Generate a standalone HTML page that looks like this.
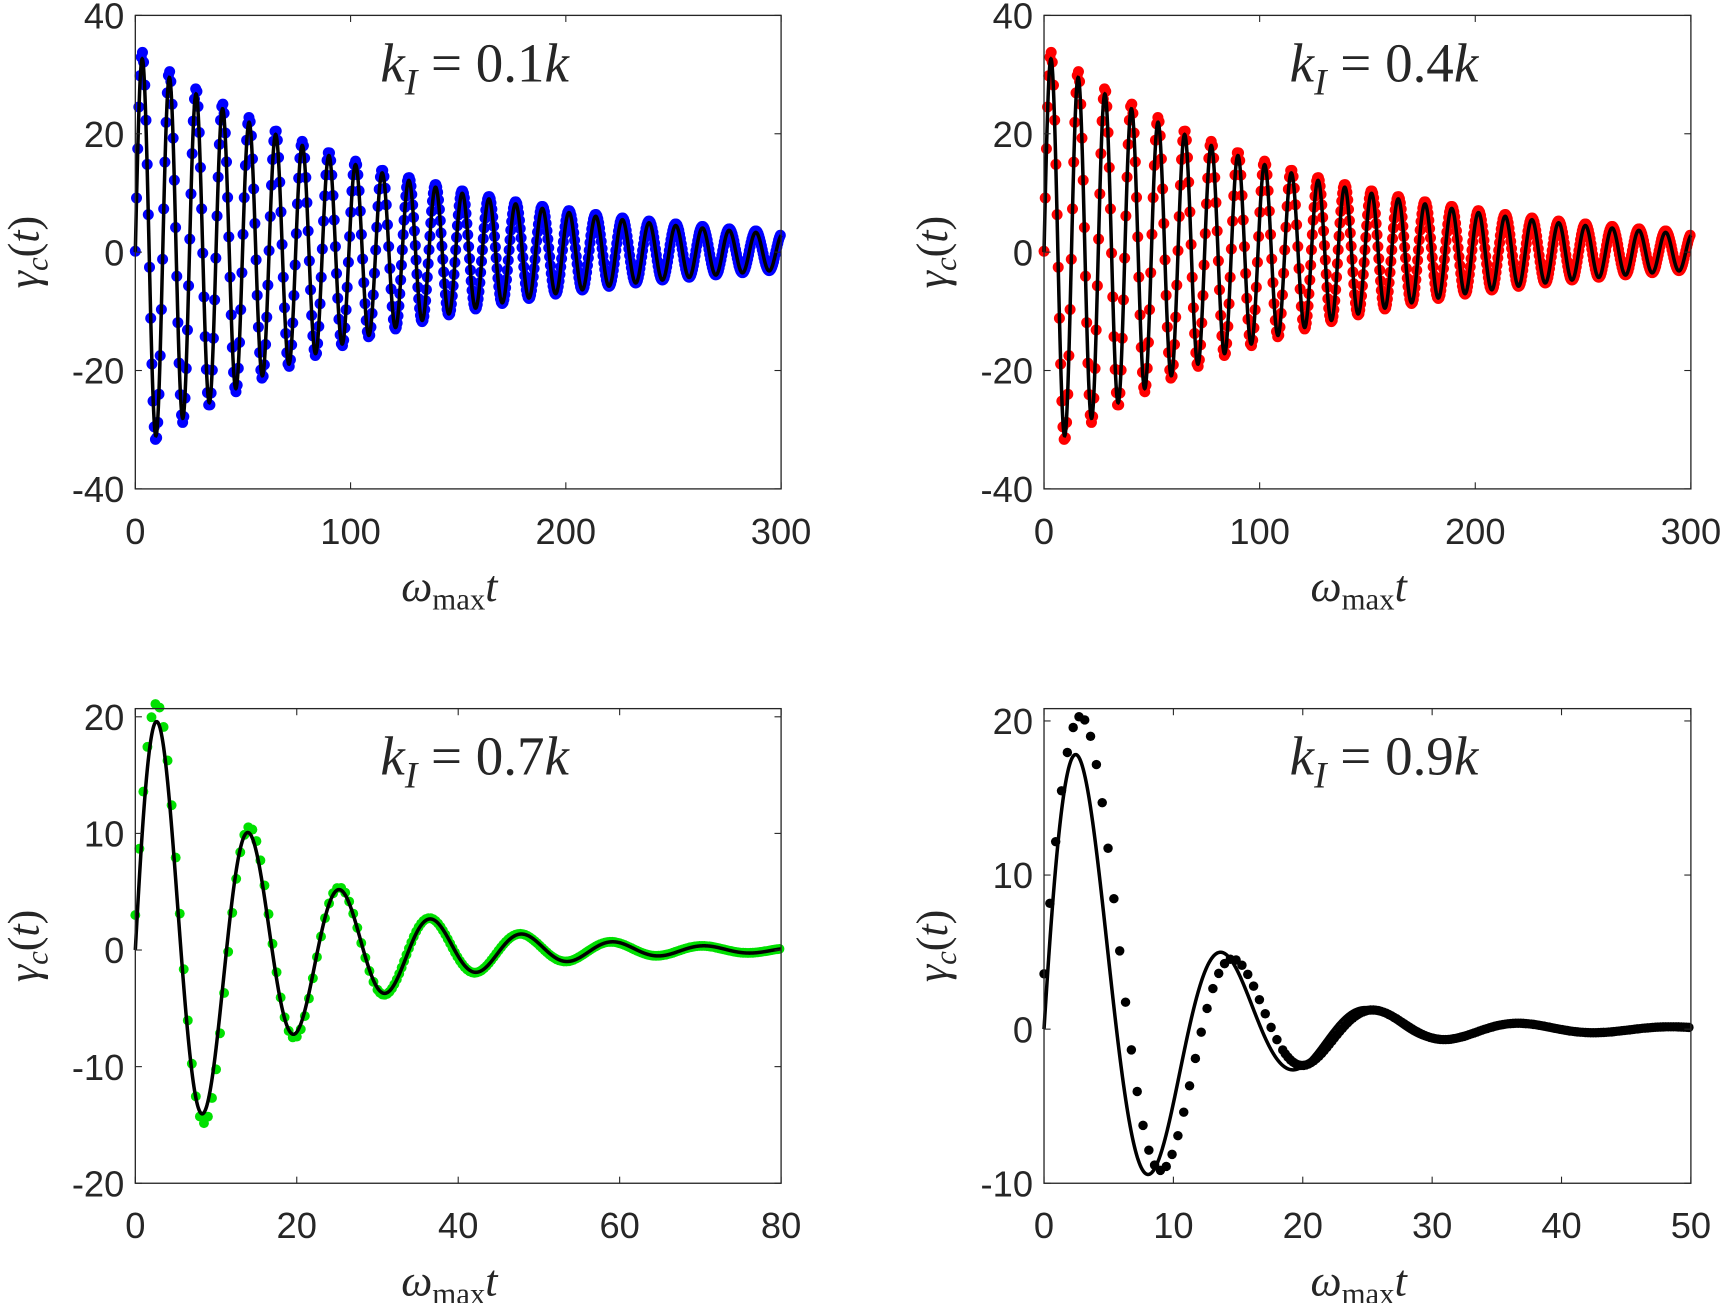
<!DOCTYPE html>
<html><head><meta charset="utf-8"><style>
html,body{margin:0;padding:0;background:#fff}
svg{display:block}
text{fill:#262626}
.tk{font-family:"Liberation Sans",sans-serif;font-size:33px}
.mt{font-family:"Liberation Serif","DejaVu Serif",serif;font-style:italic}
</style></head><body>
<svg id="s" width="1725" height="1303" viewBox="0 0 1568 1186" preserveAspectRatio="none" xmlns="http://www.w3.org/2000/svg"></svg>
<script>
const S=document.getElementById('s');let h='';
function panel(x0,x1,y0,y1,xmin,xmax,ymin,ymax,xt,yt,title,dotCol,fl,fd,dts,dr){
 const X=t=>x0+(t-xmin)/(xmax-xmin)*(x1-x0), Y=v=>y1-(v-ymin)/(ymax-ymin)*(y1-y0);
 let t=xmin;
 while(t<=xmax){const v=fd(t);h+=`<circle cx="${X(t).toFixed(1)}" cy="${Y(v).toFixed(1)}" r="${dr}" fill="${dotCol}"/>`;t+=dts(t);}
 let p='';for(let i=0;i<=3000;i++){const tt=xmin+(xmax-xmin)*i/3000;p+=(i?'L':'M')+X(tt).toFixed(2)+' '+Y(fl(tt)).toFixed(2);}
 h+=`<path d="${p}" fill="none" stroke="#000" stroke-width="3.2"/>`;
 h+=`<rect x="${x0}" y="${y0}" width="${x1-x0}" height="${y1-y0}" fill="none" stroke="#262626" stroke-width="1.2"/>`;
 xt.forEach(v=>{const x=X(v);h+=`<line x1="${x}" y1="${y1}" x2="${x}" y2="${y1-6}" stroke="#262626"/><line x1="${x}" y1="${y0}" x2="${x}" y2="${y0+6}" stroke="#262626"/><text class="tk" x="${x}" y="${y1+50}" text-anchor="middle">${v}</text>`});
 yt.forEach(v=>{const y=Y(v);h+=`<line x1="${x0}" y1="${y}" x2="${x0+6}" y2="${y}" stroke="#262626"/><line x1="${x1}" y1="${y}" x2="${x1-6}" y2="${y}" stroke="#262626"/><text class="tk" x="${x0-10}" y="${y+12}" text-anchor="end">${v}</text>`});
 const cx=(x0+x1)/2;
 h+=`<text class="mt" x="${cx+15}" y="${y0+60}" font-size="50" text-anchor="middle" fill="#000">k<tspan font-size="34" dy="12">I</tspan><tspan dy="-12" font-style="normal">  =  ${title}</tspan>k</text>`;
 h+=`<text class="mt" x="${cx-8}" y="${y1+102}" font-size="40" text-anchor="middle">ω<tspan font-style="normal" font-size="28" dy="8">max</tspan><tspan dy="-8">t</tspan></text>`;
 const ly=(y0+y1)/2;
 h+=`<text class="mt" transform="translate(${x0-88},${ly}) rotate(-90)" font-size="40" text-anchor="middle">γ<tspan font-size="28" dy="8">c</tspan><tspan dy="-8" font-style="normal">(</tspan>t<tspan font-style="normal">)</tspan></text>`;
}
const T1=12.4,w1=2*Math.PI/T1;
const ftop=t=>33.5*Math.exp(-t/125)*Math.sin(w1*t*(1-0.05*Math.exp(-t/20)));
const ftd=t=>1.03*ftop(t)+0.15;
panel(123,710,14,445,0,300,-40,40,[0,100,200,300],[40,20,0,-20,-40],'0.1','#0000ff',ftop,ftd,t=>t<120?0.55:0.4,5);
panel(949,1537,14,445,0,300,-40,40,[0,100,200,300],[40,20,0,-20,-40],'0.4','#ff0000',ftop,ftd,t=>t<120?0.55:0.4,5);
const T3=11.3,w3=2*Math.PI/T3;
const fbl=t=>23*Math.exp(-t/17)*Math.sin(w3*t);
const fbg=t=>25*Math.exp(-t/16.5)*Math.sin(w3*t*(1-0.12*Math.exp(-t/10))+0.12);
panel(123,710,645,1077,0,80,-20,20.7,[0,20,40,60,80],[20,10,0,-10,-20],'0.7','#00e000',fbl,fbg,t=>t<30?0.5:0.3,4.5);
const T4=11.2,w4=2*Math.PI/T4;
const fbr=t=>24*Math.exp(-t/8.8)*Math.sin(w4*t);
const fbd=t=>30*Math.exp(-t/7.5)*Math.sin(w4*t*(1-0.35*Math.exp(-t/10))+0.12)+0.6*Math.exp(-t/30)*Math.sin(w4*t*0.97);
panel(949,1537,645,1077,0,50,-10,20.8,[0,10,20,30,40,50],[20,10,0,-10],'0.9','#000',fbr,fbd,t=>t<18?0.45:0.2,4.3);
S.innerHTML=h;
</script>
</body></html>
